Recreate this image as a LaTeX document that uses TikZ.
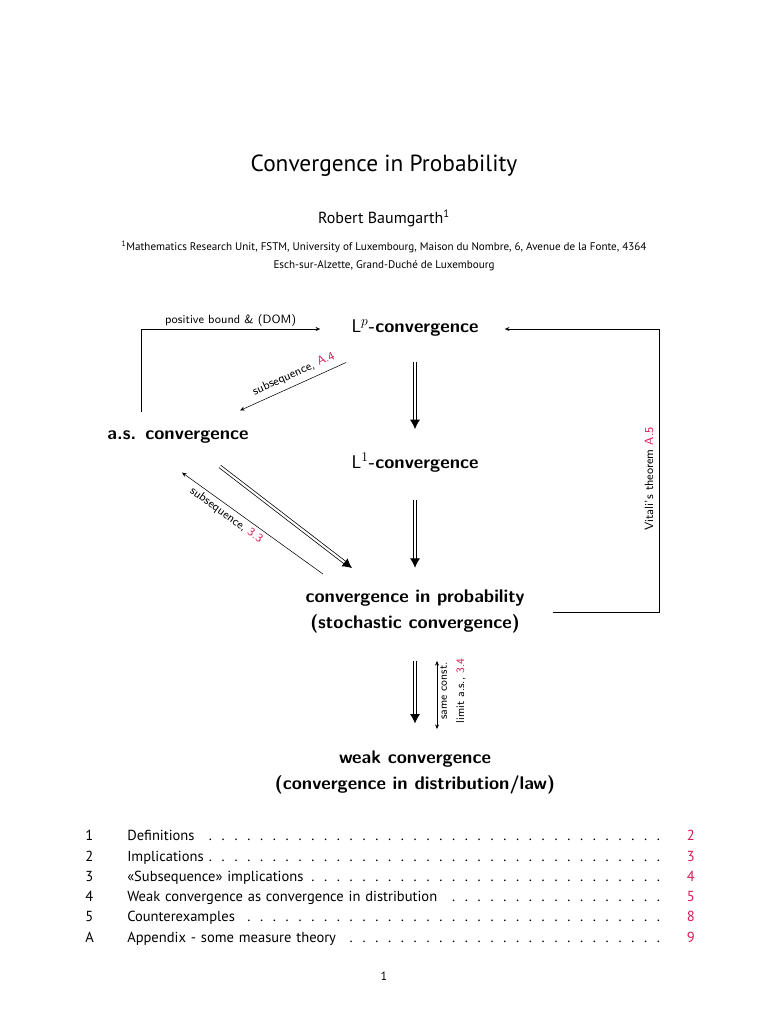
\documentclass[tikz,border=0pt]{standalone}
\usepackage{fontspec}
\setmainfont{PT Sans}
\usetikzlibrary{arrows.meta,calc}
\definecolor{linkred}{RGB}{214,28,84}
\begin{document}
\begin{tikzpicture}[x=0.75pt,y=-0.75pt,
  conv/.style={font=\sffamily\bfseries\fontsize{13.8}{19.5}\selectfont, align=center, inner sep=0pt},
  lbl/.style={font=\sffamily\fontsize{9}{11}\selectfont, inner sep=1.5pt},
  dbl/.style={double, double distance=1.6pt, line width=0.55pt, -{Latex[length=7pt,width=7.5pt]}},
  thinarr/.style={line width=0.4pt, -{Stealth[length=3.5pt,width=3pt]}},
  tocrow/.style={font=\fontsize{10.9}{13}\selectfont, inner sep=0pt, anchor=base west},
  tocnum/.style={font=\fontsize{10.9}{13}\selectfont, inner sep=0pt, anchor=base west},
  tocpage/.style={font=\fontsize{10.9}{13}\selectfont, inner sep=0pt, anchor=base east, text=linkred},
]
\useasboundingbox (0,0) rectangle (768,1024);
\fill[white] (0,0) rectangle (768,1024);

% header
\node[font=\fontsize{17.5}{21}\selectfont, inner sep=0pt] (title) at (384,166) {Convergence in Probability};
\node[font=\fontsize{12}{14}\selectfont, inner sep=0pt] (author) at (384,218) {Robert Baumgarth\textsuperscript{1}};
\node[font=\fontsize{8.3}{14.2}\selectfont, align=center, inner sep=0pt] (affil) at (384,256)
  {\textsuperscript{1}Mathematics Research Unit, FSTM, University of Luxembourg, Maison du Nombre, 6, Avenue de la Fonte, 4364\\Esch-sur-Alzette, Grand-Duché de Luxembourg};

% diagram nodes
\node[conv] (Lp) at (415,328) {{\mdseries L}$^{p}$-convergence};
\node[conv] (as) at (178,437) {a.s.\enspace convergence};
\node[conv] (L1) at (415,463) {{\mdseries L}$^{1}$-convergence};
\node[conv] (prob) at (415,611) {convergence in probability\\(stochastic convergence)};
\node[conv] (weak) at (415,772) {weak convergence\\(convergence in distribution/law)};

% connectors
\draw[dbl, shorten <=19pt, shorten >=18pt] (Lp) -- (L1);
\draw[dbl, shorten <=20pt, shorten >=16pt] (L1) -- (prob);
\draw[dbl] ([shift={(42,23)}]as.south) -- ([shift={(-63,-21)}]prob.north);
\draw[thinarr] ([shift={(-92,-15)}]prob.north) -- node[lbl, pos=0.65, below=1pt, sloped] {subsequence, \textcolor{linkred}{3.3}} ([shift={(4,29)}]as.south);
\draw[thinarr] ([shift={(-69,26)}]Lp.south) -- node[lbl, pos=0.45, above=2.5pt, sloped] {subsequence, \textcolor{linkred}{A.4}} ([shift={(62,-20)}]as.north);
\draw[thinarr] ([shift={(-37,-18)}]as.north) |- node[lbl, pos=0.75, above] {positive bound \& (DOM)} ([shift={(-31,1)}]Lp.west);
\draw[thinarr] ([shift={(28,1)}]prob.east) -- ++(107,0) |- ([shift={(26,1)}]Lp.east);
\node[lbl, rotate=90] (vitali) at (649,479) {Vitali's theorem \textcolor{linkred}{A.5}};
\draw[dbl, shorten <=21pt, shorten >=20pt] (prob) -- (weak);
\draw[line width=0.4pt, {Stealth[length=3.5pt,width=3pt]}-{Stealth[length=3.5pt,width=3pt]}] ([shift={(22,28)}]prob.south) -- ([shift={(22,-21)}]weak.north);
\node[lbl, rotate=90, align=center, font=\sffamily\fontsize{8.5}{13}\selectfont] (samelbl) at (453,691) {same const.\\limit a.s., \textcolor{linkred}{3.4}};

% table of contents
\foreach \n/\t/\p/\y in {1/Definitions/2/840, 2/Implications/3/861, 3/«Subsequence» implications/4/881, 4/Weak convergence as convergence in distribution/5/901, 5/Counterexamples/8/921, A/Appendix - some measure theory/9/942} {
  \node[tocnum] (num\n) at (85,\y) {\n};
  \node[tocrow, text width=405pt] (row\n) at (127,\y) {\t\leaders\hbox to 9.6pt{\hss.\hss}\hfill\hbox{}};
  \node[tocpage] (page\n) at (695,\y) {\p};
}

\node[font=\fontsize{9}{11}\selectfont, inner sep=0pt] (pagenum) at (384,976) {1};
\end{tikzpicture}
\end{document}
